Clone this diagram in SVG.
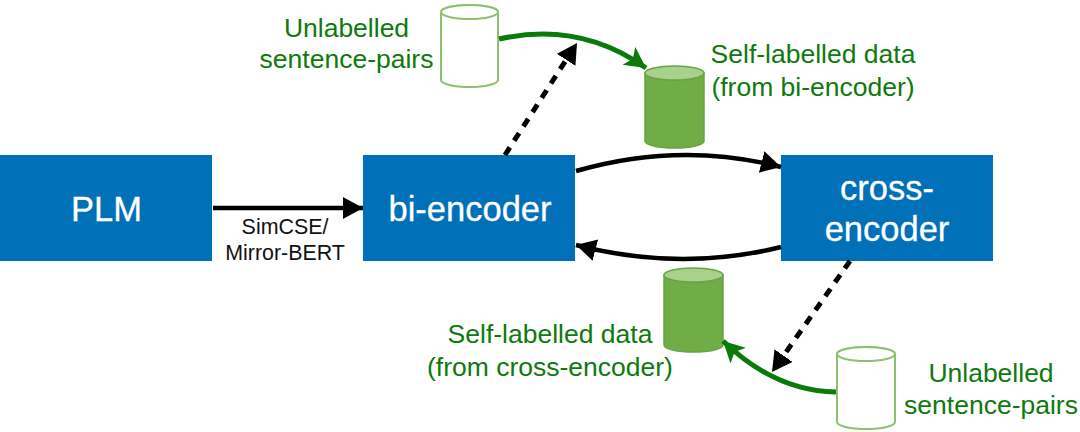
<svg xmlns="http://www.w3.org/2000/svg" width="1080" height="432" viewBox="0 0 1080 432">
<style>
text{font-family:"Liberation Sans",Arial,sans-serif;text-anchor:middle}
.box{fill:#0070b8}
.bt{fill:#fff;font-size:34.5px;stroke:#fff;stroke-width:.3}
.gt{fill:#0d7a0d;font-size:26.5px}
.lt{fill:#111;font-size:21.4px}
.cw{fill:#fff;stroke:#8fc06f;stroke-width:2}
.cg{fill:#70ad47;stroke:#6aa343;stroke-width:1.5}
.cgt{fill:#a9d18e;stroke:#6aa343;stroke-width:1.5}
.k{fill:none;stroke:#000;stroke-width:4.5}
.d{stroke-width:5;stroke-dasharray:9 8}
.g{fill:none;stroke:#0a7a0a;stroke-width:5}
</style>
<defs>
<marker id="ak" markerUnits="userSpaceOnUse" markerWidth="24" markerHeight="24" refX="20" refY="11" orient="auto"><path d="M0 0L20 11L0 22z" fill="#000"/></marker>
<marker id="ag2" markerUnits="userSpaceOnUse" markerWidth="26" markerHeight="26" refX="21" refY="11" orient="auto"><path d="M0 0L21 11L0 22L5 11z" fill="#0a7a0a"/></marker>
</defs>
<g id="plm"><rect class="box" x="0" y="155" width="212" height="106"/><text class="bt" x="106.500" y="221">PLM</text></g>
<g id="bi-encoder"><rect class="box" x="363" y="155" width="212" height="106"/><text class="bt" x="470" y="221">bi-encoder</text></g>
<g id="cross-encoder"><rect class="box" x="781" y="155" width="212" height="106"/><text class="bt" x="887" y="200">cross-</text><text class="bt" x="887" y="241">encoder</text></g>
<g id="unlabelled-top"><path class="cw" d="M441 12V80A28.500 7 0 0 0 498 80V12A28.500 7 0 0 0 441 12Z"/><ellipse class="cw" cx="469.500" cy="12" rx="28.500" ry="7"/><text class="gt" x="346.500" y="37">Unlabelled</text><text class="gt" x="346.500" y="68">sentence-pairs</text></g>
<g id="selflabelled-top"><path class="cg" d="M645 73V141A29.500 7 0 0 0 704 141V73Z"/><ellipse class="cgt" cx="674.500" cy="73" rx="29.500" ry="7"/><text class="gt" x="813" y="63">Self-labelled data</text><text class="gt" x="813" y="96">(from bi-encoder)</text></g>
<g id="selflabelled-bottom"><path class="cg" d="M664 275V345A29.500 7 0 0 0 723 345V275Z"/><ellipse class="cgt" cx="693.500" cy="275" rx="29.500" ry="7"/><text class="gt" x="550" y="343">Self-labelled data</text><text class="gt" x="550" y="376">(from cross-encoder)</text></g>
<g id="unlabelled-bottom"><path class="cw" d="M837 354V422A29 7 0 0 0 895 422V354A29 7 0 0 0 837 354Z"/><ellipse class="cw" cx="866" cy="354" rx="29" ry="7"/><text class="gt" x="991" y="382">Unlabelled</text><text class="gt" x="991" y="414">sentence-pairs</text></g>
<g id="connectors">
<path class="k" d="M213 208H363" marker-end="url(#ak)"/>
<path class="k" d="M576 171Q680 141 781 167" marker-end="url(#ak)"/>
<path class="k" d="M781 247Q680 272 576 245" marker-end="url(#ak)"/>
<path class="k d" d="M505 155L577 43" marker-end="url(#ak)"/>
<path class="k d" d="M850 261L772 372" marker-end="url(#ak)"/>
<path class="g" d="M499 39Q580 21 646 68" marker-end="url(#ag2)"/>
<path class="g" d="M836 392Q775 391 723 341" marker-end="url(#ag2)"/>
</g>
<text class="lt" x="285" y="234">SimCSE/</text>
<text class="lt" x="285" y="260">Mirror-BERT</text>
</svg>
